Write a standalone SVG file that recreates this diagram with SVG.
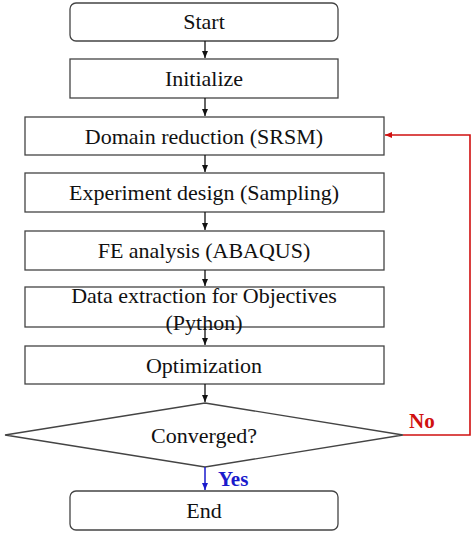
<svg xmlns="http://www.w3.org/2000/svg" width="474" height="533" viewBox="0 0 474 533">
<defs>
<style>
.box{fill:#fff;stroke:#444;stroke-width:1.3}
.t{font-family:"Liberation Serif","Times New Roman",serif;font-size:22px;fill:#111;text-anchor:middle}
.c{stroke:#111;stroke-width:1.3;fill:none}
.lb{font-family:"Liberation Serif","Times New Roman",serif;font-size:21px;font-weight:bold}
</style>
<marker id="ak" markerWidth="8" markerHeight="8" refX="7" refY="4" orient="auto" markerUnits="userSpaceOnUse"><path d="M0,1 L7,4 L0,7 Z" fill="#111"/></marker>
<marker id="ab" markerWidth="8" markerHeight="8" refX="7" refY="4" orient="auto" markerUnits="userSpaceOnUse"><path d="M0,1 L7,4 L0,7 Z" fill="#1a1acc"/></marker>
<marker id="ar" markerWidth="8" markerHeight="8" refX="7" refY="4" orient="auto" markerUnits="userSpaceOnUse"><path d="M0,1 L7,4 L0,7 Z" fill="#d01010"/></marker>
</defs>
<rect width="474" height="533" fill="#fff"/>
<g id="start"><rect class="box" x="70" y="3" width="268" height="38" rx="6"/><text class="t" x="204" y="29">Start</text></g>
<g id="init"><rect class="box" x="70" y="59" width="268" height="39"/><text class="t" x="204" y="86">Initialize</text></g>
<g id="domain"><rect class="box" x="25" y="117" width="359" height="38"/><text class="t" x="204" y="144">Domain reduction (SRSM)</text></g>
<g id="exp"><rect class="box" x="25" y="173" width="359" height="39"/><text class="t" x="204" y="200">Experiment design (Sampling)</text></g>
<g id="fe"><rect class="box" x="25" y="231" width="359" height="39"/><text class="t" x="204" y="258">FE analysis (ABAQUS)</text></g>
<g id="data"><rect class="box" x="25" y="287" width="359" height="40"/><text class="t" x="204" y="303">Data extraction for Objectives</text><text class="t" x="204" y="330">(Python)</text></g>
<g id="opt"><rect class="box" x="25" y="346" width="359" height="38"/><text class="t" x="204" y="373">Optimization</text></g>
<g id="conv"><polygon class="box" points="205,403 403,435 205,467 5,435"/><text class="t" x="204" y="443">Converged?</text></g>
<g id="end"><rect class="box" x="70" y="491" width="268" height="39" rx="6"/><text class="t" x="204" y="518">End</text></g>
<g id="connectors">
<line class="c" x1="205" y1="41" x2="205" y2="58" marker-end="url(#ak)"/>
<line class="c" x1="205" y1="98" x2="205" y2="116" marker-end="url(#ak)"/>
<line class="c" x1="205" y1="155" x2="205" y2="172" marker-end="url(#ak)"/>
<line class="c" x1="205" y1="212" x2="205" y2="230" marker-end="url(#ak)"/>
<line class="c" x1="205" y1="270" x2="205" y2="286" marker-end="url(#ak)"/>
<line class="c" x1="205" y1="327" x2="205" y2="345" marker-end="url(#ak)"/>
<line class="c" x1="205" y1="384" x2="205" y2="402" marker-end="url(#ak)"/>
<line x1="205" y1="467" x2="205" y2="490" stroke="#1a1acc" stroke-width="1.5" marker-end="url(#ab)"/>
<polyline points="403,435 470,435 470,135 385,135" fill="none" stroke="#d01010" stroke-width="1.6" marker-end="url(#ar)"/>
<text class="lb" x="409" y="428" fill="#d01010">No</text>
<text class="lb" x="218" y="486" fill="#1a1acc">Yes</text>
</g>
</svg>
